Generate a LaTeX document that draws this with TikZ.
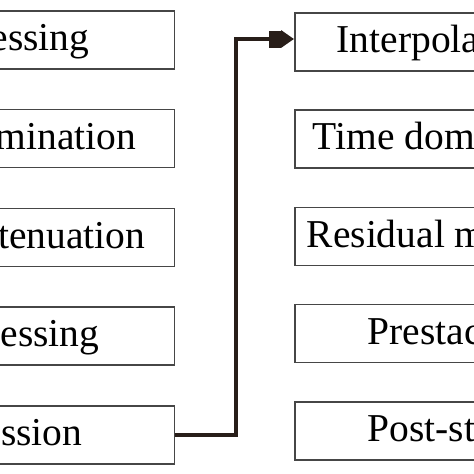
\documentclass[tikz,border=0pt]{standalone}
\usepackage{fontspec}
\setmainfont{Liberation Serif}
\usetikzlibrary{arrows.meta, positioning}
\definecolor{boxgray}{RGB}{70,70,70}
\definecolor{flowdark}{RGB}{40,30,25}
\tikzstyle{lbox} = [rectangle, draw=boxgray, line width=1.5pt, minimum height=58pt, inner ysep=0pt, text height=29pt, text depth=7.5pt, font=\fontsize{39.5}{42}\selectfont]
\tikzstyle{rbox} = [lbox]
\tikzstyle{flow} = [-{Square[length=12pt,width=17pt,sep=0pt]Triangle[length=13pt,width=17pt]}, line width=3.5pt, draw=flowdark]

\begin{document}
\begin{tikzpicture}[x=1pt, y=-1pt]
  \useasboundingbox (0,0) rectangle (474,474);
  \clip (0,0) rectangle (474,474);
  % left column
  \node[lbox, anchor=north east, inner xsep=85pt] (prep) at (175,10) {Data preprocessing};
  \node[lbox, below=39.25pt of prep.south east, anchor=north east, inner xsep=38pt] (mult) {Multiple elimination};
  \node[lbox, below=39.25pt of mult.south east, anchor=north east, inner xsep=29pt] (noise) {Noise attenuation};
  \node[lbox, below=39.25pt of noise.south east, anchor=north east, inner xsep=75pt] (ampl) {Amplitude processing};
  \node[lbox, below=39.25pt of ampl.south east, anchor=north east, inner xsep=92pt] (supp) {Surface wave suppression};

  % right column
  \node[rbox, anchor=north west, inner xsep=42pt] (interp) at (294,12) {Interpolation};
  \node[rbox, below=37.75pt of interp.south west, anchor=north west, inner xsep=18pt] (tdom) {Time domain processing};
  \node[rbox, below=37.75pt of tdom.south west, anchor=north west, inner xsep=12pt] (resid) {Residual moveout correction};
  \node[rbox, below=37.75pt of resid.south west, anchor=north west, inner xsep=73pt] (prestack) {Prestack migration};
  \node[rbox, below=37.75pt of prestack.south west, anchor=north west, inner xsep=73pt] (poststack) {Post-stack processing};

  \coordinate (turn) at (236,39);
  \draw[flow] (supp.east) -| (turn) -- (turn -| interp.west);
\end{tikzpicture}
\end{document}
